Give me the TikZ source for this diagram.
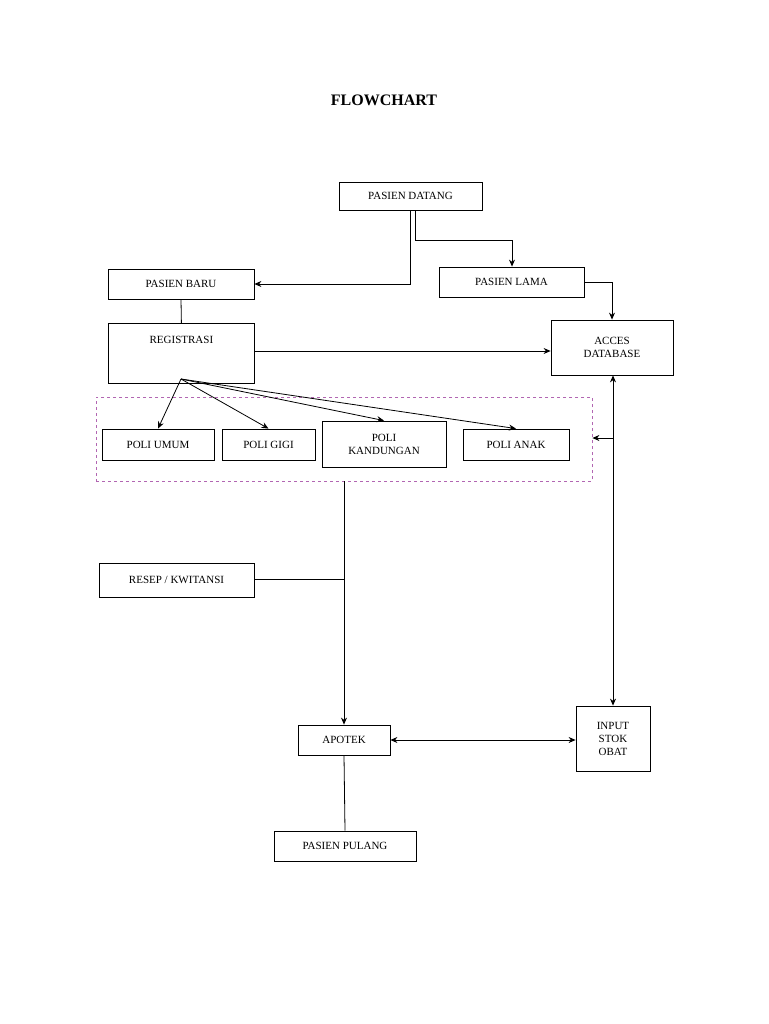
\documentclass[tikz,border=0pt]{standalone}
\usepackage{fontspec}
\setmainfont{Liberation Serif}
\usetikzlibrary{arrows.meta}
\begin{document}
\begin{tikzpicture}[x=1pt,y=-1pt,
 bx/.style={draw,thick,inner sep=0pt,font=\fontsize{11}{13}\selectfont,align=center},
 ar/.style={thick,-{Stealth[length=7pt,width=6pt]}},
 ln/.style={thick}]
\useasboundingbox (0,0) rectangle (768,1024);
\fill[white] (0,0) rectangle (768,1024);
\node[font=\fontsize{16}{18}\selectfont\bfseries] (title) at (384,100) {FLOWCHART};
\newcommand{\bxnode}[6]{\node[bx,minimum width={#4-#2},minimum height={#5-#3}] (#1) at ({(#2+#4)/2},{(#3+#5)/2}) {#6};}
\bxnode{datang}{339}{182}{482}{210}{PASIEN DATANG}
\bxnode{baru}{108}{269}{254}{299}{PASIEN BARU}
\bxnode{lama}{439}{267}{584}{297}{PASIEN LAMA}
\node[bx,minimum width=146,minimum height=56,anchor=north west,text depth=40pt,inner ysep=0pt] (reg) at (108,323) {\rule{0pt}{20pt}REGISTRASI};
\bxnode{db}{551}{320}{673}{375}{ACCES\\DATABASE}
\node[draw=violet!60,dashed,thick,minimum width=496,minimum height=84,inner sep=0pt] (grp) at (344,439) {};
\bxnode{umum}{102}{429}{214}{460}{POLI UMUM}
\bxnode{gigi}{222}{429}{315}{460}{POLI GIGI}
\bxnode{kand}{322}{421}{446}{467}{POLI\\KANDUNGAN}
\bxnode{anak}{463}{429}{569}{460}{POLI ANAK}
\bxnode{resep}{99}{563}{254}{597}{RESEP / KWITANSI}
\bxnode{apotek}{298}{725}{390}{755}{APOTEK}
\bxnode{input}{576}{706}{650}{771}{INPUT\\STOK\\OBAT}
\bxnode{pulang}{274}{831}{416}{861}{PASIEN PULANG}
\draw[ar] (datang.south -| 410,0) |- (baru.east);
\draw[ar] (datang.south -| 415,0) |- (512,240) -- (lama.north -| 512,0);
\draw[ar] (lama.east) -| (db.north -| 612,0);
\draw[ln] (baru.south) -- (reg.north);
\draw[ar] (reg.east |- 0,351) -- (db.west |- 0,351);
\coordinate (rs) at (181,379);
\draw[ar] (rs) -- (umum.north);
\draw[ar] (rs) -- (gigi.north);
\draw[ar] (rs) -- (kand.north);
\draw[ar] (rs) -- (anak.north);
\draw[ar,{Stealth[length=7pt,width=6pt]}-{Stealth[length=7pt,width=6pt]}] (db.south -| 613,0) -- (input.north -| 613,0);
\draw[ar] (613,438) -- (grp.east |- 0,438);
\draw[ar] (grp.south -| 344,0) -- (apotek.north -| 344,0);
\draw[ln] (resep.east |- 0,579) -- (344,579);
\draw[ar,{Stealth[length=7pt,width=6pt]}-{Stealth[length=7pt,width=6pt]}] (apotek.east) -- (input.west |- apotek.east);
\draw[ln] (apotek.south) -- (pulang.north);
\end{tikzpicture}
\end{document}
